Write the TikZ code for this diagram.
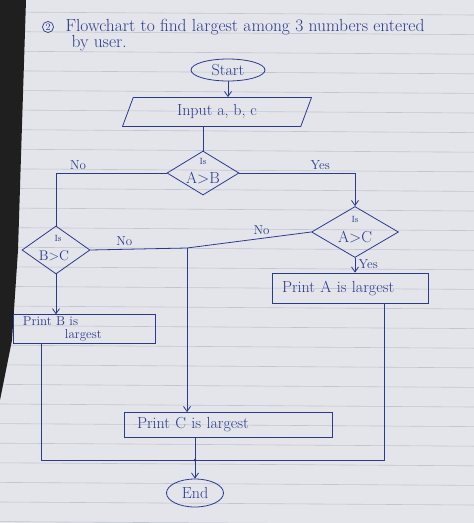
\documentclass[tikz,border=0pt]{standalone}
\usepackage{fontspec}
\usetikzlibrary{shapes.geometric,arrows.meta,calc}
\definecolor{ink}{HTML}{2C3A8C}
\definecolor{paper}{HTML}{E4E5EA}
\definecolor{ruling}{HTML}{C2C5CF}
\begin{document}
\begin{tikzpicture}[x=1pt,y=-1pt,
  every node/.style={text=ink,font=\fontsize{16}{18}\selectfont},
  ln/.style={draw=ink,line width=0.8pt},
  arr/.style={ln,-{Straight Barb[length=5pt,width=7pt]}},
  term/.style={ellipse,draw=ink,line width=0.8pt,inner sep=0pt},
  io/.style={trapezium,trapezium left angle=53,trapezium right angle=127,trapezium stretches body,draw=ink,line width=0.8pt,inner sep=0pt},
  dec/.style={diamond,draw=ink,line width=0.8pt,inner sep=0pt},
  proc/.style={rectangle,draw=ink,line width=0.8pt,align=left},
  lab/.style={font=\fontsize{13}{15}\selectfont},
  tiny/.style={font=\fontsize{9}{10}\selectfont}]
\useasboundingbox (0,0) rectangle (474,523);
\fill[paper] (0,0) rectangle (474,523);
\foreach \k in {0,...,26} \draw[ruling,line width=0.6pt] (0,12+19.6*\k) -- (474,15+19.6*\k);
\fill[black!88] (0,0) -- (26,0) -- (18,250) -- (12,340) -- (0,400) -- cycle;

% title
\node[circle,draw=ink,line width=0.7pt,inner sep=1pt,font=\fontsize{10}{11}\selectfont] (num) at (48,27) {2};
\node[anchor=north west,align=left,font=\fontsize{17.5}{19}\selectfont] (title) at (62,16) {Flowchart to find largest among 3 numbers entered\\[-3pt]\hspace{6pt}by user.};

% nodes
\node[term,minimum width=74,minimum height=22] (start) at (228,70) {Start};
\node[io,minimum width=189,minimum height=29] (input) at (217,112) {Input a, b, c\hspace{24pt}};
\node[dec,minimum width=72,minimum height=44] (d1) at (203,173) {};
\node (d1t) at (203,178) {A>B};
\node[tiny] (d1is) at (203,161) {Is};
\node[dec,minimum width=87,minimum height=51] (d2) at (355,232) {};
\node (d2t) at (355,237) {A>C};
\node[tiny] (d2is) at (355,219) {Is};
\node[dec,minimum width=68,minimum height=48] (d3) at (56,250) {};
\node[font=\fontsize{14}{16}\selectfont] (d3t) at (54,256) {B>C};
\node[tiny] (d3is) at (58,238) {Is};
\node[proc,minimum width=156,minimum height=30,inner xsep=10pt,text width=136pt] (pa) at (350,288) {Print A is largest};
\node[proc,minimum width=142,minimum height=28,inner xsep=10pt,inner ysep=2pt,text width=122pt,font=\fontsize{13}{13}\selectfont] (pb) at (84,329) {Print B is\\\hspace{42pt}largest};
\node[proc,minimum width=208,minimum height=25,inner xsep=13pt,text width=182pt] (pc) at (228,425) {Print C is largest};
\node[term,minimum width=57,minimum height=28] (end) at (195,493) {End};

\coordinate (J) at (187,248);
\coordinate (K) at (195,460);

% connectors
\draw[arr] (start.south) -- (start.south |- input.north);
\draw[ln] (d1.north |- input.south) -- (d1.north);
\draw[arr] (d1.east) -| node[lab,pos=0.35,above] {Yes} (d2.north);
\draw[ln] (d1.west) -| node[lab,pos=0.4,above] {No} (d3.north);
\draw[ln] (d2.west) -- node[lab,pos=0.4,above] {No} (J);
\draw[ln] (d3.east) -- node[lab,pos=0.35,above] {No} (J);
\draw[arr] (J) -- (J |- pc.north);
\draw[arr] (d2.south) -- node[lab,right,pos=0.45] {Yes} (d2.south |- pa.north);
\draw[arr] (d3.south) -- (d3.south |- pb.north);
\draw[ln] ($(pb.south west)!0.2!(pb.south east)$) |- (K);
\draw[ln] ($(pa.south west)!0.72!(pa.south east)$) |- (K);
\draw[ln] (K |- pc.south) -- (K);
\draw[arr] (K) -- (end.north);
\fill[ink] (K) circle (1.5pt);
\end{tikzpicture}
\end{document}
